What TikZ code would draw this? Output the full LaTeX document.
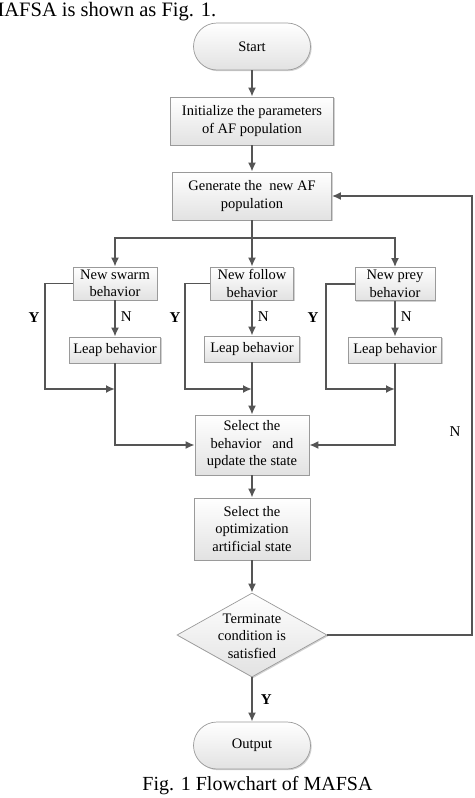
\documentclass[tikz,border=0pt]{standalone}
\usepackage{fontspec}
\setmainfont{Liberation Serif}
\usetikzlibrary{arrows.meta,shapes.geometric,shadows}
\definecolor{linegray}{HTML}{555555}
\definecolor{boxgray}{HTML}{9A9A9A}
\definecolor{fillgray}{HTML}{E2E2E2}
\begin{document}
\begin{tikzpicture}[x=1pt,y=-1pt,
  line/.style={draw=linegray,line width=1.8pt},
  arr/.style={line,-{Latex[length=9pt,width=8pt]}},
  shbox/.style={draw=boxgray,line width=0.7pt,top color=white,bottom color=fillgray,
    drop shadow={shadow xshift=1.2pt,shadow yshift=-1.2pt,fill=black,opacity=0.18},
    align=center,inner sep=1pt,font=\fontsize{14.5}{17.5}\selectfont},
  procbox/.style={shbox,rectangle},
  termbox/.style={shbox,rectangle,rounded corners=23.5pt,minimum width=117pt,minimum height=47pt},
  lbl/.style={font=\fontsize{15}{18}\selectfont,inner sep=0pt},
  ylbl/.style={lbl,font=\fontsize{15}{18}\selectfont\bfseries},
]
\useasboundingbox (0,0) rectangle (474,798);
\begin{scope}
\clip (0,0) rectangle (474,798);
\node[anchor=base west,inner sep=0pt,font=\fontsize{20.5}{24}\selectfont] (intro) at (-14,16) {MAFSA is shown as Fig. 1.};
\end{scope}

\node[termbox] (start) at (252,46.5) {Start};
\node[procbox,minimum width=163pt,minimum height=48pt] (init) at (252,121) {Initialize the parameters\\of AF population};
\node[procbox,minimum width=159pt,minimum height=48pt] (gen) at (252,196) {Generate the\ \ new AF\\population};

\node[procbox,minimum width=84pt,minimum height=33pt] (swarm) at (115,283.5) {New swarm\\behavior};
\node[procbox,minimum width=83pt,minimum height=33pt] (follow) at (252,283.5) {New follow\\behavior};
\node[procbox,minimum width=80pt,minimum height=33pt] (prey) at (395,284) {New prey\\behavior};

\node[procbox,minimum width=91pt,minimum height=26pt] (leapA) at (115,350) {Leap behavior};
\node[procbox,minimum width=95pt,minimum height=26pt] (leapB) at (252,349) {Leap behavior};
\node[procbox,minimum width=93pt,minimum height=26pt] (leapC) at (395,350) {Leap behavior};

\node[procbox,minimum width=114pt,minimum height=60pt] (sel) at (252,445) {Select the\\behavior\ \ \ and\\update the state};
\node[procbox,minimum width=116pt,minimum height=62pt] (opt) at (252,529) {Select the\\optimization\\artificial state};

\node[shbox,diamond,minimum width=150pt,minimum height=84pt,inner sep=0pt,aspect=1.786] (cond) at (252,635) {};
\node[align=center,inner sep=0pt,font=\fontsize{14.5}{17.5}\selectfont] (condtext) at (252,636) {Terminate\\condition is\\satisfied};

\node[termbox] (out) at (252,745.5) {Output};

\node[anchor=base,inner sep=0pt,font=\fontsize{20}{24}\selectfont] (cap) at (257.5,790) {Fig. 1 Flowchart of MAFSA};

% connectors
\draw[arr] (start) -- (init);
\draw[arr] (init) -- (gen);
\coordinate (split) at (252,238);
\draw[line] (gen.south) -- (split);
\draw[arr] (split) -| (swarm.north);
\draw[arr] (split) -- (follow.north);
\draw[arr] (split) -| (prey.north);

\draw[arr] (swarm) -- node[lbl,right=5pt,pos=0.45] (nA) {N} (leapA);
\draw[arr] (follow) -- node[lbl,right=5pt,pos=0.45] (nB) {N} (leapB);
\draw[arr] (prey) -- node[lbl,right=5pt,pos=0.45] (nC) {N} (leapC);

\coordinate (mA) at (115,389);
\coordinate (mB) at (252,389);
\coordinate (mC) at (395,389);
\draw[arr] (swarm.west) -- ++(-28,0) |- (mA);
\draw[arr] (follow.west) -- ++(-25,0) |- (mB);
\draw[arr] (prey.west) -- ++(-29,0) |- (mC);
\node[ylbl] (yA) at (34,318) {Y};
\node[ylbl] (yB) at (175,318) {Y};
\node[ylbl] (yC) at (313,318) {Y};

\draw[arr] (leapA.south) |- (sel.west);
\draw[arr] (leapB.south) -- (sel.north);
\draw[arr] (leapC.south) |- (sel.east);

\draw[arr] (sel) -- (opt);
\draw[arr] (opt.south) -- (cond.north);
\draw[arr] (cond.south) -- node[ylbl,right=8pt] (yOut) {Y} (out.north);

\coordinate (rc) at (472,635);
\draw[arr] (cond.east) -- (rc) |- (gen.east);
\node[lbl] (nFb) at (455,432) {N};
\end{tikzpicture}
\end{document}
